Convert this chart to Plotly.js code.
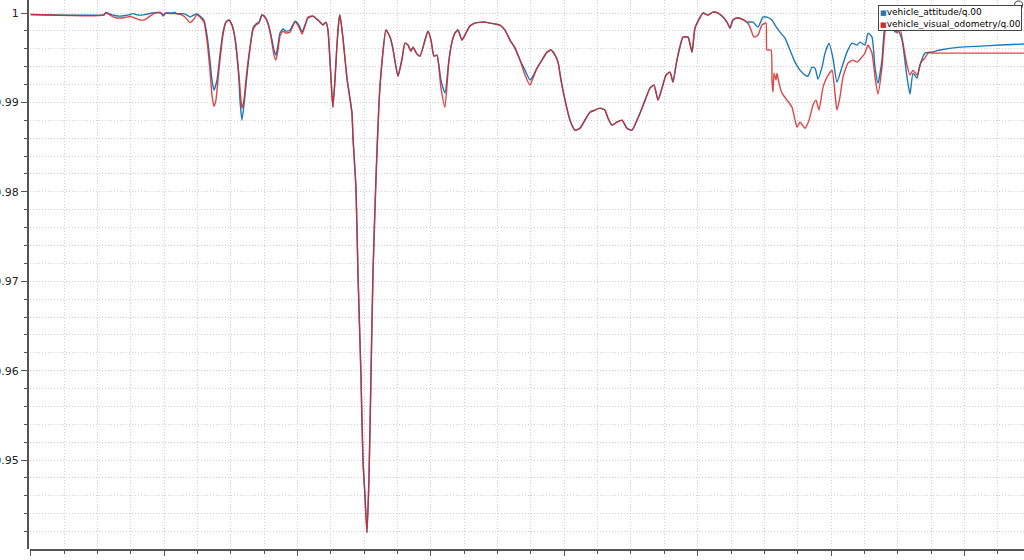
<!DOCTYPE html>
<html>
<head>
<meta charset="utf-8">
<script src="https://cdn.plot.ly/plotly-3.0.1.min.js"></script>
<style>
  html, body { margin: 0; padding: 0; background: #ffffff; overflow: hidden; }
  #chart { width: 1024px; height: 560px; }
</style>
</head>
<body>
<div id="chart"></div>
<script>
// ---- data (time in s, quaternion q.00) ----
const seriesNames = ['vehicle_attitude/q.00', 'vehicle_visual_odometry/q.00'];
const seriesColors = ['#1f77b4', '#d62728'];

const attitudeTime = [0,10.99,11.29,11.89,12.64,13.39,14.14,14.89,15.34,16.09,17.14,18.19,19.09,19.54,19.84,20.28,20.88,21.63,22.08,22.83,23.43,23.88,24.48,24.93,25.38,25.98,26.43,26.88,27.18,27.48,27.93,28.38,28.83,29.28,29.73,30.18,30.63,30.93,31.23,31.38,31.68,31.98,32.28,32.58,32.88,33.33,33.78,34.23,34.68,35.13,35.58,36.03,36.48,36.78,37.08,37.38,37.83,38.28,38.88,39.63,40.23,40.68,41.13,41.58,
  42.33,43.07,43.52,43.82,44.27,44.57,44.87,45.17,45.32,45.62,45.92,46.22,46.37,46.82,47.42,48.17,48.32,48.77,49.07,49.52,49.82,50.12,50.42,50.72,51.02,51.32,51.77,52.22,52.67,53.27,53.87,54.32,55.07,55.67,56.12,56.57,57.02,57.32,57.92,58.37,
  59.12,59.57,60.02,60.46,60.91,61.51,62.11,62.71,63.16,63.61,64.06,64.66,65.26,65.86,66.61,68.11,69.61,70.36,71.11,71.86,72.61,73.36,74.11,74.86,75.31,75.91,76.66,77.41,78.01,78.61,79.06,79.51,80.11,80.86,81.61,82.35,83.1,83.85,84.6,85.35,86.1,86.55,87.15,87.9,88.65,89.4,90.15,90.9,91.65,92.4,92.85,93.45,94.05,94.65,95.25,95.85,96.3,96.75,97.05,97.8,98.55,99.15,99.6,100.79,101.54,102.29,103.04,103.64,104.39,104.84,105.29,105.89,106.64,107.39,
  108.29,109.04,109.79,110.39,111.14,111.59,112.34,113.09,113.84,114.59,115.34,116.09,116.54,117.14,117.59,118.04,118.64,119.09,119.69,120.28,120.88,121.63,122.38,123.13,123.88,124.33,125.08,125.53,126.13,126.58,127.03,127.63,128.08,128.83,129.58,130.03,130.63,131.38,131.83,132.28,132.88,133.33,134.08,135.13,136.33,139.33,142.33,145.33,148.93];

const attitudeQ0 = [0.99983,0.99983,1.00006,0.99989,0.99972,0.99966,0.99972,0.99983,0.99994,0.99978,0.99983,1.0,1.00006,1.0,0.99966,1.0,1.0,1.00006,0.99989,0.99994,0.99978,0.99955,0.99978,0.99989,0.99966,0.99922,0.99754,0.99474,0.9925,0.99138,0.9925,0.9953,0.99787,0.99899,0.99922,0.99866,0.9972,0.9953,0.9925,0.99026,0.98802,0.9897,0.99194,0.99418,0.99608,0.99832,0.99877,0.99899,0.99978,0.99955,0.99888,0.99754,0.99586,0.9953,0.99642,0.99776,0.99821,0.99798,0.9981,0.9991,0.99866,0.99787,0.99866,0.99944,
  0.99966,0.99922,0.99888,0.99866,0.99899,0.9981,0.99474,0.99082,0.98947,0.9925,0.99642,0.99922,0.99978,0.9972,0.99272,0.9888,0.98611,0.9804,0.97088,0.95946,0.94994,0.94602,0.94187,0.94792,0.95946,0.97088,0.98152,0.98992,0.99451,0.9981,0.99731,0.99597,0.99294,0.99485,0.99664,0.99642,0.99574,0.99619,0.99541,0.99518,
  0.99698,0.99798,0.99698,0.99518,0.9953,0.9925,0.99104,0.99474,0.99675,0.99776,0.9981,0.99698,0.99776,0.99854,0.99888,0.99899,0.99877,0.99866,0.9981,0.99698,0.99608,0.99474,0.99362,0.9925,0.99294,0.99384,0.99474,0.99563,0.99586,0.9953,0.99451,0.9925,0.99026,0.98802,0.9869,0.98712,0.98802,0.98891,0.98914,0.98936,0.98914,0.98824,0.98746,0.98779,0.98802,0.98712,0.9869,0.98802,0.98936,0.99082,0.9916,0.99194,0.99026,0.9916,0.99306,0.99339,0.99227,0.99418,0.9953,0.99731,0.99731,0.99563,0.99832,1.0,0.99978,1.00011,1.0,0.99966,0.99899,0.99832,0.99922,0.99944,0.99933,0.99899,
  0.99899,0.99843,0.99955,0.99955,0.99922,0.99866,0.99787,0.9972,0.99586,0.99451,0.99362,0.99306,0.99294,0.99395,0.99384,0.99261,0.99395,0.99552,0.99664,0.99496,0.99227,0.99395,0.99563,0.99664,0.99642,0.99675,0.99642,0.99776,0.99731,0.99395,0.99216,0.99474,0.99843,0.99899,0.99787,0.9981,0.99698,0.99283,0.99093,0.99328,0.99272,0.99418,0.99552,0.99563,0.99586,0.99619,0.9963,0.99642,0.99653];

const odometryTime = [0,10.99,11.29,11.89,12.64,13.39,14.14,14.89,15.64,16.39,17.14,17.89,18.64,19.39,19.84,20.28,20.88,21.63,22.38,23.13,23.88,24.48,24.93,25.38,25.98,26.43,26.88,27.18,27.48,27.78,28.08,28.38,28.83,29.28,29.73,30.18,30.63,30.93,31.23,31.53,31.68,31.98,32.28,32.58,32.88,33.33,33.78,34.23,34.68,35.13,35.58,36.03,36.48,36.78,37.08,37.38,37.83,38.28,38.88,39.63,40.23,40.68,41.13,41.58,
  42.33,43.07,43.52,43.82,44.27,44.57,44.87,45.17,45.32,45.62,45.92,46.22,46.37,46.82,47.42,48.17,48.32,48.77,49.07,49.52,49.82,50.12,50.42,50.72,51.02,51.32,51.77,52.22,52.67,53.27,53.87,54.32,55.07,55.67,56.12,56.57,57.02,57.32,57.92,58.37,
  59.12,59.57,60.02,60.46,60.91,61.51,62.11,62.71,63.16,63.61,64.06,64.66,65.26,65.86,66.61,68.11,69.61,70.36,71.11,71.86,72.61,73.36,74.11,74.86,75.31,75.91,76.66,77.41,78.01,78.61,79.06,79.51,80.11,80.86,81.61,82.35,83.1,83.85,84.6,85.35,86.1,86.55,87.15,87.9,88.65,89.4,90.15,90.9,91.65,92.4,92.85,93.45,94.05,94.65,95.25,95.85,96.3,96.75,97.05,97.8,98.55,99.15,99.6,100.79,101.54,102.29,103.04,103.64,104.39,104.84,105.29,105.89,106.64,107.39,
  107.84,108.44,109.04,109.64,110.24,110.39,110.99,111.14,111.29,111.44,111.74,111.89,112.19,112.64,113.39,114.14,114.59,114.89,115.34,116.09,116.69,117.29,117.74,118.19,118.79,119.39,120.14,120.58,120.88,121.33,121.78,122.53,123.28,123.88,124.63,125.08,125.53,126.13,126.58,127.03,127.63,128.08,128.53,129.28,129.88,130.33,130.78,131.38,131.83,132.28,132.88,133.48,134.08,134.53,135.58,148.93];

const odometryQ0 = [0.99983,0.99978,1.00006,0.99978,0.9995,0.99944,0.9995,0.99961,0.99944,0.99922,0.99927,0.99966,1.0,1.00006,0.99983,1.0,0.99994,0.99994,0.99989,0.99955,0.99894,0.99933,0.99983,0.99955,0.99899,0.99698,0.99362,0.99082,0.98958,0.99026,0.9925,0.99474,0.99754,0.99899,0.99922,0.99866,0.9972,0.9953,0.99306,0.99026,0.98936,0.99026,0.9925,0.99451,0.99608,0.9981,0.99866,0.99888,0.99978,0.99955,0.99877,0.99731,0.9953,0.99474,0.99586,0.99742,0.99798,0.99776,0.99787,0.99899,0.99843,0.99765,0.99854,0.99955,
  0.99966,0.99922,0.99888,0.99866,0.99899,0.9981,0.99474,0.99082,0.98947,0.9925,0.99642,0.99922,0.99978,0.9972,0.99272,0.9888,0.98611,0.9804,0.97088,0.95946,0.94994,0.94602,0.94187,0.94792,0.95946,0.97088,0.98152,0.98992,0.99451,0.9981,0.99731,0.99597,0.99294,0.99485,0.99664,0.99642,0.99574,0.99619,0.99541,0.99518,
  0.99698,0.99798,0.99698,0.99518,0.9953,0.9916,0.98947,0.99474,0.99675,0.99776,0.9981,0.99698,0.99776,0.99854,0.99888,0.99899,0.99877,0.99866,0.9981,0.99698,0.99608,0.99474,0.99306,0.99194,0.99272,0.99384,0.99474,0.99563,0.99586,0.9953,0.99451,0.9925,0.99026,0.98802,0.9869,0.98712,0.98802,0.98891,0.98914,0.98936,0.98914,0.98824,0.98746,0.98779,0.98802,0.98712,0.9869,0.98802,0.98936,0.99082,0.9916,0.99194,0.99026,0.9916,0.99306,0.99339,0.99227,0.99418,0.9953,0.99731,0.99731,0.99563,0.99832,1.0,0.99978,1.00011,1.0,0.99966,0.99899,0.99832,0.99922,0.99944,0.99933,0.99899,
  0.99843,0.99731,0.99754,0.99866,0.99888,0.99586,0.99586,0.9925,0.99115,0.99328,0.9925,0.99328,0.99216,0.99104,0.99026,0.98947,0.98802,0.98723,0.98779,0.98712,0.98802,0.9897,0.99026,0.98914,0.99171,0.99283,0.99362,0.99104,0.98914,0.99059,0.99283,0.9944,0.99474,0.99451,0.99507,0.99552,0.99642,0.99552,0.99283,0.99093,0.99395,0.99787,0.99866,0.99888,0.99776,0.99832,0.99664,0.99418,0.99306,0.99362,0.99306,0.99451,0.99496,0.99552,0.99552,0.99552];

const xTickStep = 20, xMinorStep = 5;
const yTickStep = 0.01, yMinorStep = 0.002;

// ---- chart ----
const gridStyle = { showgrid: true, gridcolor: '#cfcfcf', griddash: '1px,2px', gridwidth: 1 };
const tickFont = { family: 'DejaVu Sans, sans-serif', size: 11, color: '#222222' };

const traces = [
  { x: attitudeTime, y: attitudeQ0, name: seriesNames[0], type: 'scatter', mode: 'lines',
    line: { color: seriesColors[0], width: 1.4, shape: 'spline', smoothing: 0.5 }, showlegend: false, hoverinfo: 'x+y' },
  { x: odometryTime, y: odometryQ0, name: seriesNames[1], type: 'scatter', mode: 'lines',
    line: { color: seriesColors[1], width: 1.4, shape: 'spline', smoothing: 0.5 }, opacity: 0.85, showlegend: false, hoverinfo: 'x+y' }
];

const legendText = seriesNames.map((n, i) =>
  '<span style="color:' + seriesColors[i] + ';font-size:7px">\u25A0</span>' + n).join('<br>');

const layout = {
  width: 1024, height: 560,
  margin: { l: 27, r: 0, t: 0, b: 11, pad: 0 },
  paper_bgcolor: '#ffffff', plot_bgcolor: '#ffffff',
  showlegend: false,
  xaxis: Object.assign({
    domain: [0.003, 1],
    range: [-0.1, 148.92],
    tick0: 0, dtick: xTickStep,
    ticks: 'outside', ticklen: 5, tickwidth: 1, tickcolor: '#555555',
    showline: true, linecolor: '#555555', linewidth: 1.5,
    zeroline: false, tickfont: tickFont,
    minor: Object.assign({ dtick: xMinorStep, ticks: 'outside', ticklen: 3, tickcolor: '#555555' }, gridStyle)
  }, gridStyle),
  yaxis: Object.assign({
    anchor: 'free', position: 0,
    range: [0.94005, 1.00146],
    tick0: 0.94, dtick: yTickStep,
    ticks: 'outside', ticklen: 6, tickwidth: 1, tickcolor: '#555555',
    showline: true, linecolor: '#555555', linewidth: 1.5,
    zeroline: false, tickfont: tickFont,
    minor: Object.assign({ dtick: yMinorStep, ticks: 'outside', ticklen: 3, tickcolor: '#555555' }, gridStyle)
  }, gridStyle),
  annotations: [{
    xref: 'paper', yref: 'paper', x: 0.998, y: 0.991, xanchor: 'right', yanchor: 'top',
    text: legendText, showarrow: false, align: 'left',
    width: 140, borderpad: 1,
    font: { family: 'DejaVu Sans, sans-serif', size: 9, color: '#000000' },
    bgcolor: '#ffffff', bordercolor: '#444444', borderwidth: 1
  }],
  shapes: [{
    type: 'circle', xref: 'paper', yref: 'paper',
    x0: 0.9906, x1: 0.9986, y0: 0.9836, y1: 0.9982,
    line: { color: '#444444', width: 1 }, fillcolor: '#ffffff', layer: 'above'
  }]
};

Plotly.newPlot('chart', traces, layout, { displayModeBar: false, staticPlot: true });
</script>
</body>
</html>
